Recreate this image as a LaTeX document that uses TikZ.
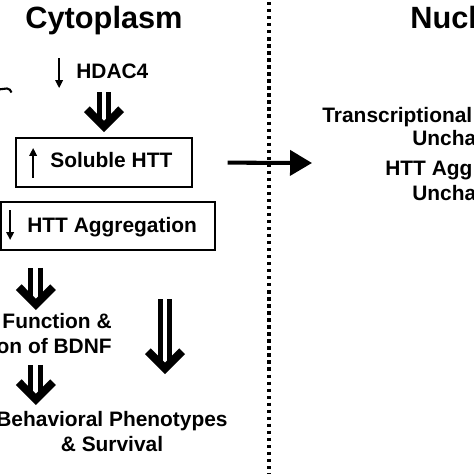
\documentclass[tikz,border=0pt]{standalone}
\usepackage{fontspec}
\setmainfont{Liberation Sans}
\usetikzlibrary{positioning,arrows.meta,calc}
\tikzset{
  titel/.style={font=\fontsize{17.5}{20}\selectfont\bfseries, inner sep=0pt},
  txt/.style={font=\fontsize{11.9}{14.2}\selectfont\bfseries, inner sep=0pt},
  kasten/.style={draw, line width=1.1pt, inner sep=0pt},
  duenn/.style={-{Triangle[length=4.5pt, width=4.2pt]}, line width=1.1pt},
  quer/.style={-{Triangle[length=12.5pt, width=14.2pt]}, line width=2.3pt},
  schaft/.style={line width=2.83pt, double=white, double distance=2.83pt},
  trenn/.style={line width=2.8pt, dash pattern=on 1.9pt off 2.1pt},
  spitze/.pic={\fill (-20,-20) -- (0,0) -- (20,-20) -- (14.3,-25.7) -- (0,-11.3) -- (-14.3,-25.7) -- cycle;},
}
\begin{document}
\begin{tikzpicture}[x=0.02cm, y=-0.02cm]
        \useasboundingbox (0,0) rectangle (474,474);
        \clip (0,0) rectangle (474,474);
        % ---------------- trennlinie ----------------
        \draw[trenn] (269,-5) -- (269,480);
        \draw[line width=1.2pt] (-2,89.5) -- (7,88.5) to[out=0,in=110] (11.5,92.5);
        % ---------------- titel ----------------
        \node[titel, anchor=base] (zyto) at (104,28) {Cytoplasm};
        \node[titel, anchor=base west] (kern) at (410,28) {Nucl};
        % ---------------- zytoplasma ----------------
        \node[txt, anchor=base west] (hdac) at (76,78) {HDAC4};
        \node[kasten, minimum width=3.52cm, minimum height=0.98cm] (sol) at (104,162.5) {};
        \node[txt, anchor=base west] (soltxt) at (50,167) {Soluble HTT};
        \node[kasten, minimum width=4.28cm, minimum height=0.96cm] (agg) at (108,226) {};
        \node[txt, anchor=base west] (aggtxt) at (27,232) {HTT Aggregation};
        \node[txt, align=right, anchor=north east] (funk) at (112,313) {Function \&\\on of BDNF};
        \node[txt, align=center, anchor=north] (verh) at (112,411) {Behavioral Phenotypes\\\& Survival};
        % ---------------- kern ----------------
        \node[txt, anchor=base west] (trans) at (322,122) {Transcriptional};
        \node[txt, anchor=base west] (unv1) at (412,145) {Uncha};
        \node[txt, anchor=base west] (httk) at (385,175) {HTT Agg};
        \node[txt, anchor=base west] (unv2) at (412,200) {Uncha};
        % ---------------- kleine pfeile ----------------
        \draw[duenn] ([xshift=-9.6pt, yshift=11.3pt]hdac.base west) -- ++(0,30);
        \draw[duenn] ([xshift=-9.6pt, yshift=-6.2pt]soltxt.base west) -- ++(0,-30);
        \draw[duenn] ([xshift=-9.6pt, yshift=12.5pt]aggtxt.base west) -- ++(0,30);
        % ---------------- dicke pfeile ----------------
        \draw[schaft, shorten <=7.9pt, shorten >=9.6pt] (hdac.south -| sol.north) -- (sol.north);
        \pic at ([yshift=2.8pt]sol.north) {spitze};
        \coordinate (p2) at ([xshift=20.4pt]agg.south west);
        \draw[schaft, shorten <=9.6pt, shorten >=8.5pt] (p2) -- (p2 |- funk.north);
        \pic at ([yshift=1.7pt]p2 |- funk.north) {spitze};
        \coordinate (p3) at (p2 |- funk.south);
        \draw[schaft, shorten <=6.2pt, shorten >=10.2pt] (p3) -- (p3 |- verh.north);
        \pic at ([yshift=3.4pt]p3 |- verh.north) {spitze};
        \coordinate (p4) at (165,299);
        \draw[schaft] (p4) -- ++(0,63);
        \pic at ($(p4)+(0,75)$) {spitze};
        % ---------------- quer ----------------
        \coordinate (ziel) at (312,163);
        \draw[quer, shorten <=19.8pt] (sol.east) -- (ziel);
\end{tikzpicture}
\end{document}
